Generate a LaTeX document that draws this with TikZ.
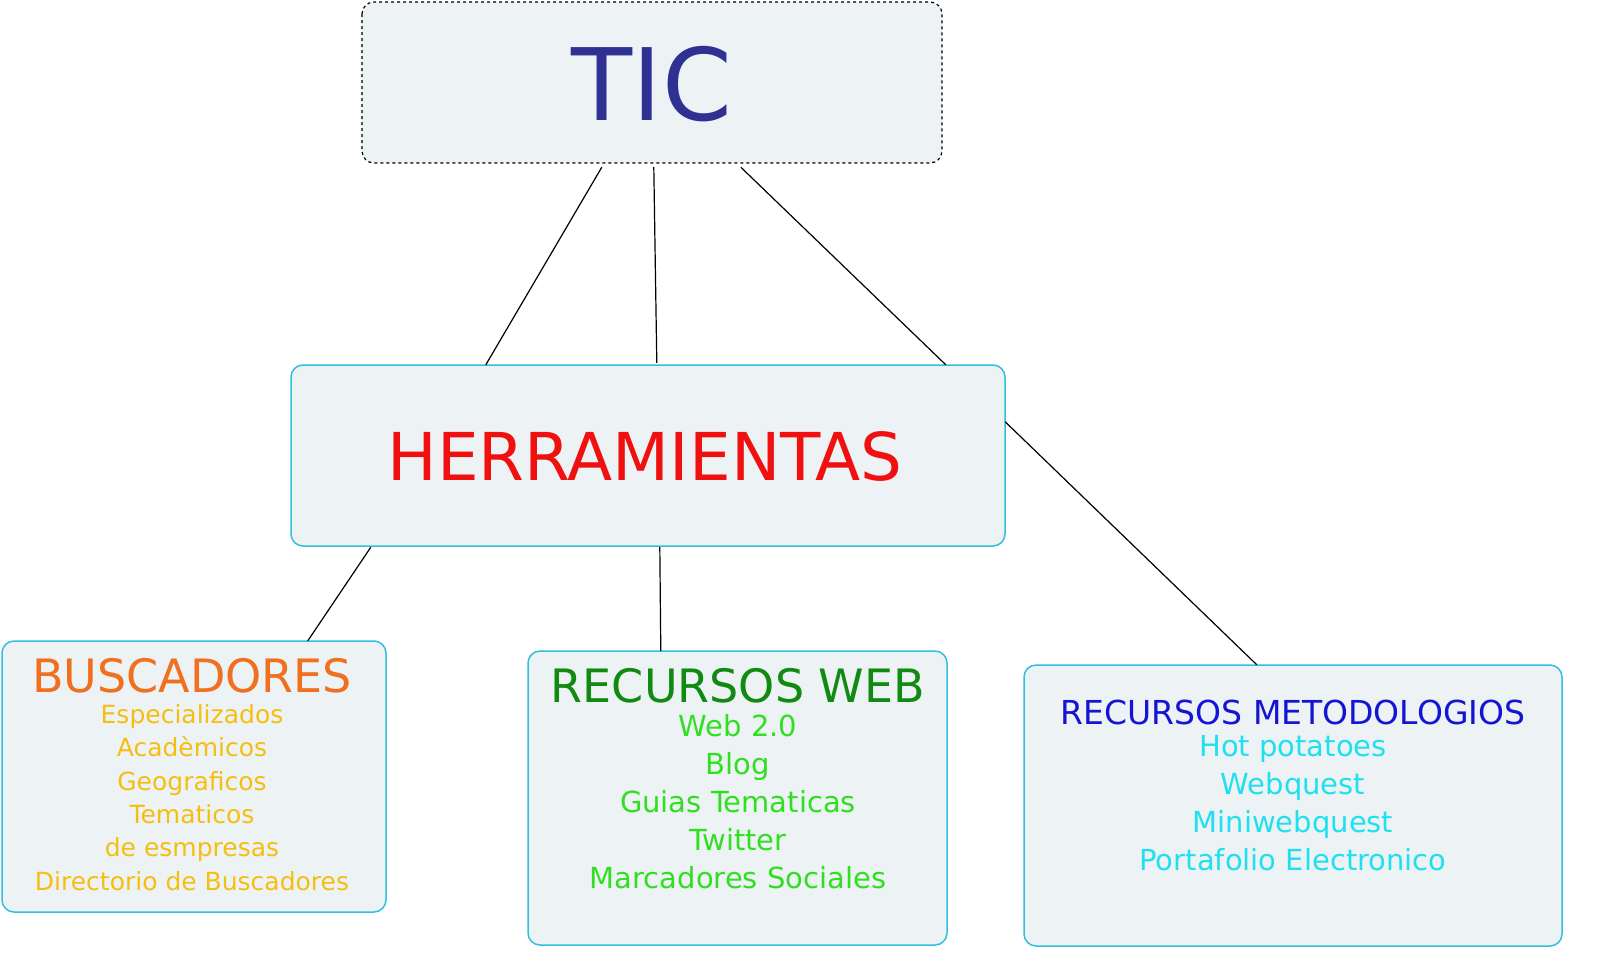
\documentclass[tikz,border=0pt]{standalone}
\usepackage{fontspec}
\setmainfont{DejaVu Sans}
\usetikzlibrary{calc}
\definecolor{boxfill}{HTML}{EDF3F5}
\definecolor{boxline}{HTML}{30C0DE}
\definecolor{ticblue}{HTML}{2E3192}
\definecolor{herred}{HTML}{F01010}
\definecolor{busor}{HTML}{F07020}
\definecolor{busyel}{HTML}{F5BE10}
\definecolor{webdk}{HTML}{108A10}
\definecolor{weblt}{HTML}{30E020}
\definecolor{metblue}{HTML}{1414D2}
\definecolor{metcyan}{HTML}{20E0F0}
\tikzset{
 box/.style={draw=boxline,fill=boxfill,rounded corners=12pt,line width=1.5pt},
 lk/.style={draw=black,line width=1.2pt},
 lst/.style={align=center,inner sep=0pt}
}
\begin{document}
\begin{tikzpicture}[x=1pt,y=-1pt]
\useasboundingbox (0,0) rectangle (1600,972);
\draw[dashed,fill=boxfill,rounded corners=12pt,line width=1.2pt] (362,2) rectangle (942,163);
\node[inner sep=0pt,minimum width=580,minimum height=161] (tic) at (652,82.5) {};
\node[text=ticblue,font=\fontsize{100}{110}\selectfont] at (652,84) {TIC};

\draw[box] (291,365) rectangle (1005,546);
\node[inner sep=0pt,minimum width=714,minimum height=181] (her) at (648,455.5) {};
\node[text=herred,font=\fontsize{66}{72}\selectfont] at (645,456) {HERRAMIENTAS};

\draw[box] (2,641) rectangle (386,912);
\node[inner sep=0pt,minimum width=384,minimum height=271] (bus) at (194,776.5) {};
\node[text=busor,font=\fontsize{46}{50}\selectfont] at (192,676) {BUSCADORES};
\node[lst,text=busyel,font=\fontsize{25}{33.4}\selectfont,anchor=north] at (192,704)
 {Especializados\\Acadèmicos\\Geograficos\\Tematicos\\de esmpresas\\Directorio de Buscadores};

\draw[box] (528,651) rectangle (947,945);
\node[inner sep=0pt,minimum width=419,minimum height=294] (web) at (737.5,798) {};
\node[text=webdk,font=\fontsize{46}{50}\selectfont] at (738,686) {RECURSOS WEB};
\node[lst,text=weblt,font=\fontsize{29}{38}\selectfont,anchor=north] at (738,714)
 {Web 2.0\\Blog\\Guias Tematicas\\Twitter\\Marcadores Sociales};

\draw[box] (1024,665) rectangle (1562,946);
\node[inner sep=0pt,minimum width=538,minimum height=281] (met) at (1293,805.5) {};
\node[text=metblue,font=\fontsize{33}{36}\selectfont] at (1293,712) {RECURSOS METODOLOGIOS};
\node[lst,text=metcyan,font=\fontsize{29}{38}\selectfont,anchor=north] at (1293,735)
 {Hot potatoes\\Webquest\\Miniwebquest\\Portafolio Electronico};

\draw[lk] ($(tic.south west)+(240,4)$) -- ($(her.north west)+(195,0)$);
\draw[lk] ($(tic.south west)+(292,4)$) -- ($(her.north west)+(366,-2)$);
\draw[lk] ($(tic.south west)+(379,4)$) -- ($(her.north west)+(655,0)$);
\draw[lk] ($(her.north east)+(0,57)$) -- ($(met.north west)+(233,0)$);
\draw[lk] ($(her.south west)+(80,1)$) -- ($(bus.north west)+(306,0)$);
\draw[lk] ($(her.south west)+(369,1)$) -- ($(web.north west)+(133,0)$);
\end{tikzpicture}
\end{document}
